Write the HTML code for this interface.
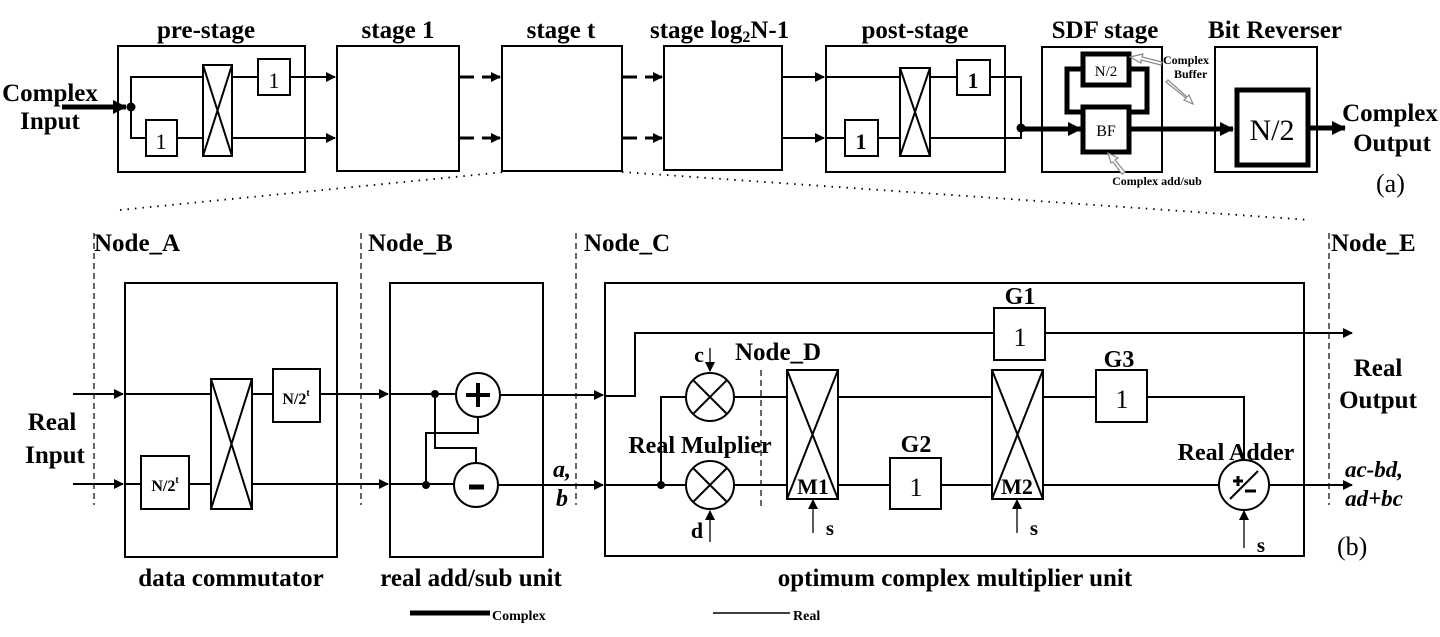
<!DOCTYPE html>
<html><head><meta charset="utf-8"><style>
html,body{margin:0;padding:0;background:#fff}
svg{display:block}
text{font-family:"Liberation Serif",serif;fill:#000}
.b{font-weight:bold}
.n{font-weight:normal}
</style></head><body>
<svg width="1440" height="637" viewBox="0 0 1440 637" xmlns="http://www.w3.org/2000/svg">
<defs>
<marker id="ar" markerWidth="10" markerHeight="10" refX="9" refY="5" orient="auto" markerUnits="userSpaceOnUse"><path d="M0,0 L10,5 L0,10 Z" fill="#000"/></marker>
<marker id="arb" markerWidth="14" markerHeight="14" refX="13" refY="7" orient="auto" markerUnits="userSpaceOnUse"><path d="M0,0 L14,7 L0,14 Z" fill="#000"/></marker>
</defs>
<g fill="none" stroke="#000" stroke-width="2">
<rect x="118" y="46" width="187" height="126"/>
<rect x="337" y="46" width="122" height="125"/>
<rect x="502" y="46" width="120" height="125"/>
<rect x="664" y="46" width="118" height="124"/>
<rect x="826" y="46" width="179" height="126"/>
<rect x="1042" y="47" width="120" height="125"/>
<rect x="1215" y="47" width="102" height="125"/>
<rect x="203" y="65" width="29" height="91"/>
<path d="M203,65 L232,156 M232,65 L203,156"/>
<rect x="258" y="59" width="32" height="36"/>
<rect x="146" y="120" width="31" height="36"/>
<path d="M131,107 V77 H203 M131,107 V138 H146 M177,138 H203 M232,77 H258"/>
<path d="M290,77 H335" marker-end="url(#ar)"/>
<path d="M232,138 H335" marker-end="url(#ar)"/>
<path d="M459,77 H474 M482,77 H500 M459,138 H474 M482,138 H500 M622,77 H637 M645,77 H662 M622,138 H637 M645,138 H662" stroke-width="3"/>
<path d="M489,77 H500" marker-end="url(#ar)"/><path d="M489,138 H500" marker-end="url(#ar)"/>
<path d="M652,77 H662" marker-end="url(#ar)"/><path d="M652,138 H662" marker-end="url(#ar)"/>
<path d="M782,77 H824" marker-end="url(#ar)"/><path d="M782,138 H824" marker-end="url(#ar)"/>
<rect x="900" y="68" width="30" height="88"/>
<path d="M900,68 L930,156 M930,68 L900,156"/>
<rect x="957" y="60" width="33" height="35"/>
<rect x="845" y="120" width="33" height="36"/>
<path d="M826,138 H845 M878,138 H900 M826,77 H900 M930,77 H957 M990,77 H1021 V128 M930,138 H1021 V128"/>
</g>
<circle cx="131" cy="107" r="4.5"/>
<circle cx="1021" cy="128" r="4.5"/>
<g fill="none" stroke="#000" stroke-width="5">
<path d="M62,107 H126" marker-end="url(#arb)"/>
<path d="M1021,129 H1081" marker-end="url(#arb)"/>
<rect x="1083" y="54" width="46" height="31"/>
<rect x="1083" y="107" width="46" height="45"/>
<path d="M1083,69 H1067 V112 H1083 M1129,69 H1147 V112 H1129"/>
<path d="M1129,129 H1233" marker-end="url(#arb)"/>
<rect x="1237" y="90" width="71" height="75"/>
<path d="M1308,128 H1345" marker-end="url(#arb)"/>
<path d="M410,613 H490"/>
</g>
<path d="M713,613 H790" stroke="#000" stroke-width="1.5"/>
<g fill="#fff" stroke="#888" stroke-width="1.2">
<path d="M1162,62 L1142,57 L1143,54 L1130,57 L1141,63 L1141,60 L1161,65 Z"/>
<path d="M1166,82 L1186,98 L1184,100 L1193,104 L1189,95 L1187,97 L1168,80 Z"/>
<path d="M1125,172 L1115,160 L1118,158 L1108,153 L1111,163 L1113,162 L1122,174 Z"/>
</g>
<g stroke="#000" stroke-width="1.8" stroke-dasharray="1.5 6" fill="none">
<path d="M120,210 L505,172"/><path d="M622,172 L1310,220"/>
</g>
<g class="b">
<text x="206" y="38" font-size="25" text-anchor="middle">pre-stage</text>
<text x="398" y="38" font-size="25" text-anchor="middle">stage 1</text>
<text x="561" y="38" font-size="25" text-anchor="middle">stage t</text>
<text x="650" y="38" font-size="25">stage  log<tspan font-size="16" dy="4">2</tspan><tspan dy="-4">N-1</tspan></text>
<text x="915" y="38" font-size="25" text-anchor="middle">post-stage</text>
<text x="1105" y="38" font-size="25" text-anchor="middle">SDF stage</text>
<text x="1275" y="38" font-size="25" text-anchor="middle">Bit Reverser</text>
<text x="50" y="101" font-size="25" text-anchor="middle">Complex</text>
<text x="50" y="129" font-size="25" text-anchor="middle">Input</text>
<text x="973" y="88" font-size="22" text-anchor="middle">1</text>
<text x="861" y="149" font-size="22" text-anchor="middle">1</text>
<text x="1163" y="64" font-size="12">Complex</text>
<text x="1174" y="78" font-size="12">Buffer</text>
<text x="1157" y="185" font-size="12" text-anchor="middle">Complex add/sub</text>
<text x="1390" y="121" font-size="25" text-anchor="middle">Complex</text>
<text x="1392" y="151" font-size="25" text-anchor="middle">Output</text>
</g>
<g class="n">
<text x="274" y="88" font-size="22" text-anchor="middle">1</text>
<text x="161" y="149" font-size="22" text-anchor="middle">1</text>
<text x="1106" y="76" font-size="15" text-anchor="middle">N/2</text>
<text x="1106" y="136" font-size="16" text-anchor="middle">BF</text>
<text x="1272" y="140" font-size="30" text-anchor="middle">N/2</text>
<text x="1376" y="192" font-size="26" font-family="Liberation Sans">(a)</text>
</g>

<g fill="none" stroke="#000" stroke-width="1.2" stroke-dasharray="6 4">
<path d="M94,233 V505 M361,233 V505 M576,233 V505 M761,370 V508 M1329,233 V505"/>
</g>
<g class="b">
<text x="94" y="251" font-size="25">Node_A</text>
<text x="368" y="251" font-size="25">Node_B</text>
<text x="584" y="251" font-size="25">Node_C</text>
<text x="735" y="360" font-size="25">Node_D</text>
<text x="1331" y="251" font-size="25">Node_E</text>
</g>
<g fill="none" stroke="#000" stroke-width="2">
<rect x="125" y="283" width="212" height="274"/>
<rect x="390" y="283" width="153" height="274"/>
<rect x="605" y="283" width="699" height="273"/>
<rect x="211" y="379" width="41" height="130"/>
<path d="M211,379 L252,509 M252,379 L211,509"/>
<rect x="141" y="456" width="48" height="53"/>
<rect x="273" y="369" width="47" height="53"/>
<path d="M73,394 H123" marker-end="url(#ar)"/>
<path d="M73,484 H123" marker-end="url(#ar)"/>
<path d="M125,394 H211 M252,394 H273 M125,484 H141 M189,484 H211"/>
<path d="M320,394 H388" marker-end="url(#ar)"/>
<path d="M252,484 H388" marker-end="url(#ar)"/>
<circle cx="478" cy="395" r="22"/>
<circle cx="476" cy="485" r="22"/>
<path d="M390,394 H456 M390,484 H454 M500,395 H603 M498,485 H603"/>
<path d="M435,394 V448 H476 V463 M426,485 V433 H478 V417"/>
<path d="M590,395 H603" marker-end="url(#ar)"/>
<path d="M590,485 H603" marker-end="url(#ar)"/>
<path d="M605,396 H635 V333 H994 M1045,333 H1352" marker-end="url(#ar)"/>
<rect x="994" y="308" width="51" height="52"/>
<path d="M661,485 V397 H686 M734,397 H787 M838,397 H992 M1043,397 H1096 M1147,397 H1244 V460"/>
<circle cx="710" cy="397" r="24"/>
<circle cx="710" cy="485" r="24"/>
<path d="M693,380 L727,414 M727,380 L693,414 M693,468 L727,502 M727,468 L693,502"/>
<path d="M605,485 H686 M734,485 H787 M838,485 H890 M941,485 H992 M1043,485 H1220"/>
<path d="M1268,485 H1352" marker-end="url(#ar)"/>
<rect x="787" y="370" width="51" height="129"/>
<path d="M787,370 L838,499 M838,370 L787,499"/>
<rect x="992" y="370" width="51" height="129"/>
<path d="M992,370 L1043,499 M1043,370 L992,499"/>
<rect x="890" y="458" width="51" height="51"/>
<rect x="1096" y="370" width="51" height="52"/>
<circle cx="1244" cy="485" r="25"/>
<path d="M1230,499 L1258,471"/>
</g>
<g fill="none" stroke="#000" stroke-width="1.3">
<path d="M710,348 V371" marker-end="url(#ar)"/>
<path d="M710,542 V511" marker-end="url(#ar)"/>
<path d="M813,533 V500" marker-end="url(#ar)"/>
<path d="M1017,533 V500" marker-end="url(#ar)"/>
<path d="M1244,548 V511" marker-end="url(#ar)"/>
</g>
<path d="M1233,481 H1243 M1238,476 V486 M1245,491 H1256" stroke="#000" stroke-width="3"/>
<path d="M466,395 H490 M478,383 V407" stroke="#000" stroke-width="4"/>
<path d="M469,487 H484" stroke="#000" stroke-width="5"/>
<circle cx="435" cy="394" r="4"/>
<circle cx="426" cy="485" r="4"/>
<circle cx="661" cy="485" r="4"/>
<g class="b">
<text x="52" y="430" font-size="25" text-anchor="middle">Real</text>
<text x="55" y="463" font-size="25" text-anchor="middle">Input</text>
<text x="165" y="491" font-size="16" text-anchor="middle">N/2<tspan font-size="10" dy="-8">t</tspan></text>
<text x="296" y="404" font-size="16" text-anchor="middle">N/2<tspan font-size="10" dy="-8">t</tspan></text>
<text x="553" y="477" font-size="24" font-style="italic">a,</text>
<text x="556" y="506" font-size="24" font-style="italic">b</text>
<text x="231" y="586" font-size="25" text-anchor="middle">data commutator</text>
<text x="471" y="586" font-size="25" text-anchor="middle">real add/sub unit</text>
<text x="955" y="586" font-size="25" text-anchor="middle">optimum complex multiplier unit</text>
<text x="492" y="620" font-size="14">Complex</text>
<text x="793" y="620" font-size="14">Real</text>
<text x="699" y="362" font-size="22" text-anchor="middle">c</text>
<text x="697" y="538" font-size="22" text-anchor="middle">d</text>
<text x="700" y="453" font-size="24" text-anchor="middle">Real Mulplier</text>
<text x="813" y="494" font-size="22" text-anchor="middle">M1</text>
<text x="1017" y="494" font-size="22" text-anchor="middle">M2</text>
<text x="830" y="535" font-size="21" text-anchor="middle">s</text>
<text x="1034" y="535" font-size="21" text-anchor="middle">s</text>
<text x="1261" y="552" font-size="21" text-anchor="middle">s</text>
<text x="916" y="452" font-size="24" text-anchor="middle">G2</text>
<text x="1020" y="304" font-size="24" text-anchor="middle">G1</text>
<text x="1119" y="367" font-size="24" text-anchor="middle">G3</text>
<text x="1236" y="460" font-size="24" text-anchor="middle">Real Adder</text>
<text x="1378" y="376" font-size="25" text-anchor="middle">Real</text>
<text x="1378" y="408" font-size="25" text-anchor="middle">Output</text>
<text x="1374" y="477" font-size="23" text-anchor="middle" font-style="italic">ac-bd,</text>
<text x="1374" y="506" font-size="23" text-anchor="middle" font-style="italic">ad+bc</text>
</g>
<g class="n">
<text x="916" y="496" font-size="26" text-anchor="middle">1</text>
<text x="1020" y="346" font-size="26" text-anchor="middle">1</text>
<text x="1122" y="408" font-size="26" text-anchor="middle">1</text>
<text x="1337" y="555" font-size="26" font-family="Liberation Sans">(b)</text>
</g>
</svg>
</body></html>
